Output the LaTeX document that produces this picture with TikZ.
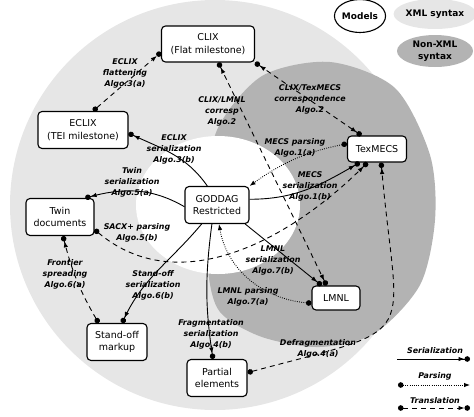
\documentclass[tikz,border=0pt]{standalone}
\usepackage{fontspec}
\setmainfont{DejaVu Sans}
\usetikzlibrary{arrows.meta,shapes.geometric}
\definecolor{xmlgray}{HTML}{E6E6E6}
\definecolor{nonxmlgray}{HTML}{B3B3B3}
\tikzset{
  box/.style={draw, line width=1.1pt, rounded corners=4pt, fill=white, align=center,
    inner sep=1pt, font=\fontsize{9.5}{12.5}\selectfont},
  lbl/.style={align=center, inner sep=0pt, font=\fontsize{7.9}{11}\selectfont\bfseries\itshape},
  key/.style={ellipse, inner sep=0pt, align=center, font=\fontsize{9}{12}\selectfont\bfseries},
  ser/.style={line width=0.9pt, -{Latex[length=6pt,width=4.5pt] Circle[length=5.5pt]}},
  pars/.style={line width=0.9pt, dash pattern=on 0.8pt off 1.4pt,
    {Circle[length=5.5pt]}-{Latex[length=6pt,width=4.5pt]}},
  trans/.style={line width=0.9pt, dash pattern=on 5pt off 4pt,
    {Circle[length=5.5pt]}-{Latex[length=6pt,width=4.5pt] Circle[length=5.5pt]}},
  corr/.style={line width=0.9pt, dash pattern=on 5pt off 4pt,
    {Circle[length=5.5pt] Latex[length=6pt,width=4.5pt]}-{Latex[length=6pt,width=4.5pt] Circle[length=5.5pt]}}
}
\begin{document}
\begin{tikzpicture}[x=1pt,y=-1pt]
\useasboundingbox (0,0) rectangle (474,416);
% syntax areas
\fill[xmlgray] (215,205) circle[radius=205];
\fill[nonxmlgray] plot[smooth cycle] coordinates {(330,62) (395,88) (430,155) (435,220)
  (420,285) (375,333) (320,347) (262,337) (220,312) (208,270) (207,200) (217,130) (262,76)};
\fill[white] (218,205) ellipse[x radius=82, y radius=69];

% models
\node[box, minimum width=93pt, minimum height=36pt] (clix) at (208,44) {CLIX\\(Flat milestone)};
\node[box, minimum width=90pt, minimum height=37pt] (eclix) at (83,130) {ECLIX\\(TEI milestone)};
\node[box, minimum width=59pt, minimum height=26pt] (texmecs) at (377,149) {TexMECS};
\node[box, minimum width=64pt, minimum height=37pt] (goddag) at (217,205) {GODDAG\\Restricted};
\node[box, minimum width=68pt, minimum height=37pt] (twin) at (60,217) {Twin\\documents};
\node[box, minimum width=48pt, minimum height=24pt] (lmnl) at (336,298) {LMNL};
\node[box, minimum width=60pt, minimum height=37pt] (standoff) at (117,342) {Stand-off\\markup};
\node[box, minimum width=60pt, minimum height=37pt] (partial) at (217,378) {Partial\\elements};

% algorithms
\draw[trans] (eclix.62) -- (clix.190);
\draw[corr] (clix.-61) -- (lmnl.127);
\draw[corr] (clix.south east) -- (texmecs.139);
\draw[ser] (goddag.117) to[out=125,in=-25] (eclix.-4);
\draw[ser] (goddag.183) to[out=150,in=15] (twin.37);
\draw[trans] (twin.-20) to[out=-40,in=-135] (texmecs.235);
\draw[pars] (texmecs.170) to[bend right=12] (goddag.north east);
\draw[ser] (goddag.10) to[out=0,in=-150] (texmecs.218);
\draw[trans] (partial.10) to[out=15,in=-85,looseness=1.9] (texmecs.-73);
\draw[ser] (goddag.-34) -- (lmnl.139);
\draw[pars] (lmnl.192) to[out=175,in=-80] (goddag.-84);
\draw[ser] (goddag.231) to[out=230,in=65] (standoff.75);
\draw[ser] (goddag.-105) to[bend right=8] (partial.102);
\draw[trans] (standoff.134) to[bend left=8] (twin.-81);

\node[lbl] (lflat) at (125,73) {ECLIX\\flattening\\Algo.3(a)};
\node[lbl] (lclixlmnl) at (222,111) {CLIX/LMNL\\corresp\\Algo.2};
\node[lbl] (lclixmecs) at (310,99) {CLIX/TexMECS\\correspondence\\Algo.2};
\node[lbl] (leclix) at (174,149) {ECLIX\\serialization\\Algo.3(b)};
\node[lbl] (ltwin) at (132,182) {Twin\\serialization\\Algo.5(a)};
\node[lbl] (lsacx) at (137,233) {SACX+ parsing\\Algo.5(b)};
\node[lbl] (lmecsp) at (295,148) {MECS parsing\\Algo.1(a)};
\node[lbl] (lmecss) at (310,186) {MECS\\serialization\\Algo.1(b)};
\node[lbl] (llmnls) at (273,260) {LMNL\\serialization\\Algo.7(b)};
\node[lbl] (llmnlp) at (248,297) {LMNL parsing\\Algo.7(a)};
\node[lbl] (lstandoff) at (153,285) {Stand-off\\serialization\\Algo.6(b)};
\node[lbl] (lfrag) at (211,334) {Fragmentation\\serialization\\Algo.4(b)};
\node[lbl] (lfront) at (65,274) {Frontier\\spreading\\Algo.6(a)};
\node[lbl] (ldefrag) at (318,349) {Defragmentation\\Algo.4(a)};

% legend
\node[key, draw, line width=1.1pt, fill=white, minimum width=50pt, minimum height=33pt] (models) at (360,16) {Models};
\node[key, fill=xmlgray, minimum width=76pt, minimum height=30pt] (xml) at (435,14) {XML syntax};
\node[key, fill=nonxmlgray, minimum width=76pt, minimum height=32pt] (nonxml) at (435,51) {Non-XML\\syntax};
\coordinate (sera) at (397,359);
\coordinate (serb) at (470,359);
\coordinate (parsa) at (398,385);
\coordinate (parsb) at (470,385);
\coordinate (transa) at (398,408);
\coordinate (transb) at (470,408);
\draw[ser] (sera) -- (serb);
\draw[pars] (parsa) -- (parsb);
\draw[trans] (transa) -- (transb);
\node[lbl] (lser) at (435,351) {Serialization};
\node[lbl] (lpars) at (435,376) {Parsing};
\node[lbl] (ltrans) at (435,401) {Translation};
\end{tikzpicture}
\end{document}
